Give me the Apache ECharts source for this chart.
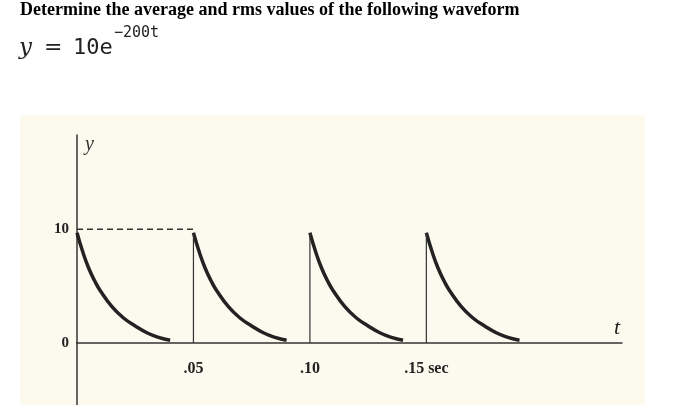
<!DOCTYPE html>
<html>
<head>
<meta charset="utf-8">
<script src="https://cdn.jsdelivr.net/npm/echarts@6/dist/echarts.min.js"></script>
<style>html,body{margin:0;padding:0;background:#fff}#main{width:675px;height:405px}</style>
</head>
<body>
<div id="main"></div>
<script>
// pulse start times (sec) and decay shape
var pulseStarts = [0, 0.05, 0.10, 0.15];
var shapeOffsets = [0, 0.0025, 0.005, 0.0075, 0.01, 0.015, 0.02, 0.025, 0.03, 0.035, 0.04];
var shapeValues = [9.7, 8.0, 6.6, 5.5, 4.6, 3.2, 2.2, 1.5, 0.9, 0.5, 0.25];
var xTickValues = [0.05, 0.10, 0.15];
var xTickLabels = ['.05', '.10', '.15 sec'];
var yTickValues = [0, 10];

var myChart = echarts.init(document.getElementById('main'));

var series = [];
pulseStarts.forEach(function (t0, i) {
    var pts = shapeOffsets.map(function (dt, j) { return [t0 + dt, shapeValues[j]]; });
    series.push({
        type: 'line', data: pts, smooth: true, showSymbol: false,
        lineStyle: {color: '#222', width: 3.5}, z: 3
    });
    if (i > 0) {
        series.push({
            type: 'line', data: [[t0, 0], [t0, shapeValues[0]]], showSymbol: false,
            lineStyle: {color: '#333', width: 1.2}
        });
    }
});
// dashed level at 10
series.push({
    type: 'line', data: [[0, 10], [0.05, 10]], showSymbol: false,
    lineStyle: {color: '#333', width: 1.5, type: [6, 4]}
});

var labelFont = {color: '#222', fontFamily: 'Liberation Serif', fontWeight: 'bold'};

option = {
    backgroundColor: '#fff',
    animation: false,
    graphic: [
        {type: 'rect', shape: {x: 20, y: 115, width: 625, height: 290}, style: {fill: '#fcfaee'}, z: -10},
        {type: 'text', left: 20, top: 1, style: {text: 'Determine the average and rms values of the following waveform',
            font: 'bold 18px "Liberation Serif"', fill: '#000'}},
        {type: 'text', left: 19, top: 37, style: {text: 'y', font: 'italic 23px "DejaVu Serif"', fill: '#222'}},
        {type: 'text', left: 44, top: 37, style: {text: '=', font: '22px "DejaVu Sans"', fill: '#222'}},
        {type: 'text', left: 73, top: 37, style: {text: '10e', font: '22px "DejaVu Sans Mono"', fill: '#222'}},
        {type: 'text', left: 114, top: 26, style: {text: '\u2212200t', font: '15px "DejaVu Sans Mono"', fill: '#222'}}
    ],
    grid: [
        {left: 77, right: 53, top: 135, bottom: 62, outerBoundsMode: 'none'},
        {left: 77, right: 53, top: 343, bottom: 0, outerBoundsMode: 'none'}
    ],
    xAxis: [{
        type: 'value', min: 0, max: 0.234,
        name: 't', nameLocation: 'end', nameGap: -8,
        nameTextStyle: {fontFamily: 'Liberation Serif', fontStyle: 'italic', fontSize: 22, color: '#222',
            verticalAlign: 'bottom', padding: [0, 0, 4, 0]},
        axisLine: {lineStyle: {color: '#333', width: 1.5}},
        axisTick: {show: false},
        splitLine: {show: false},
        axisLabel: Object.assign({customValues: xTickValues, fontSize: 16, margin: 18,
            formatter: function (v) { var k = xTickValues.indexOf(v); return k >= 0 ? xTickLabels[k] : ''; }}, labelFont)
    }, {
        type: 'value', gridIndex: 1, min: 0, max: 0.234, show: false
    }],
    yAxis: [{
        type: 'value', min: 0, max: 18.3,
        name: 'y', nameLocation: 'end', nameGap: -20,
        nameTextStyle: {fontFamily: 'Liberation Serif', fontStyle: 'italic', fontSize: 20, color: '#333',
            align: 'left', padding: [0, 0, 0, 8]},
        axisLine: {show: true, lineStyle: {color: '#333', width: 1.5}},
        axisTick: {show: false},
        splitLine: {show: false},
        axisLabel: Object.assign({customValues: yTickValues, fontSize: 15, margin: 8}, labelFont)
    }, {
        type: 'value', gridIndex: 1, min: -5.4, max: 0,
        axisLine: {show: true, lineStyle: {color: '#333', width: 1.5}},
        axisTick: {show: false}, axisLabel: {show: false}, splitLine: {show: false}
    }],
    series: series
};
myChart.setOption(option);
</script>
</body>
</html>
